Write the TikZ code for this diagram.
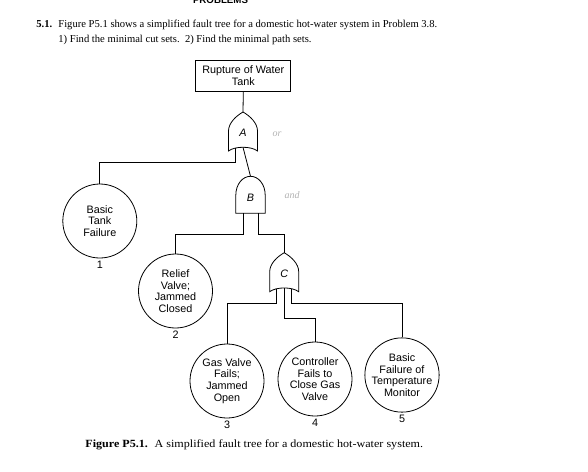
\documentclass[tikz,border=0pt]{standalone}
\usepackage{fontspec}
\usepackage{graphicx}
\setmainfont{Liberation Serif}
\setsansfont{Liberation Sans}
\usetikzlibrary{calc}
\begin{document}
\begin{tikzpicture}[x=1pt,y=-1pt, line width=0.8pt,
  every node/.style={font=\sffamily\fontsize{10.8}{11.7}\selectfont},
  event/.style={draw, circle, minimum size=74pt, inner sep=0pt, align=center},
  topbox/.style={draw, rectangle, minimum width=95pt, minimum height=31pt, inner sep=1pt, align=center},
  gatelabel/.style={font=\sffamily\itshape\fontsize{10.8}{12}\selectfont, inner sep=0pt},
  numlabel/.style={label={[label distance=2pt, inner sep=0pt]below:#1}},
  body/.style={font=\fontsize{10.6}{14}\selectfont, inner sep=0pt, anchor=base west},
  note/.style={font=\itshape\fontsize{10}{10}\selectfont, text=black!30, inner sep=0pt},
  orgate/.pic={
    \draw (-14.5,0) -- (-14.5,-20) .. controls (-14.5,-28) and (-7,-35) .. (0,-39)
       .. controls (7,-35) and (14.5,-28) .. (14.5,-20) -- (14.5,0)
       .. controls (8,-5) and (-8,-5) .. cycle;
    \node[gatelabel] (-label) at (0,-18) {#1};
    \coordinate (-out) at (0,-39);
    \coordinate (-in1) at (-7.5,-3);
    \coordinate (-in2) at (0,-3.75);
    \coordinate (-in3) at (7.5,-3);
  },
  andgate/.pic={
    \draw (-14.7,0) -- (-14.7,-18) .. controls (-14.7,-29) and (-8,-37) .. (0,-37)
      .. controls (8,-37) and (14.7,-29) .. (14.7,-18) -- (14.7,0) -- cycle;
    \node[gatelabel] (-label) at (0,-16) {#1};
    \coordinate (-out) at (0,-37);
    \coordinate (-in1) at (-7.5,0);
    \coordinate (-in2) at (7.5,0);
  }
]
\useasboundingbox (0,0) rectangle (588,471);

% heading (cut off at top) and problem statement
\node[font=\sffamily\bfseries\fontsize{9.7}{10}\selectfont, anchor=base, inner sep=0pt] (head) at (220.5,4) {PROBLEMS};
\node[body, font=\bfseries\fontsize{10.6}{14}\selectfont] (qnum) at (36,27.7) {5.1.};
\node[body] (q1) at (58,27.7) {Figure P5.1 shows a simplified fault tree for a domestic hot-water system in Problem 3.8.};
\node[body] (q2) at (58,42.3) {1) Find the minimal cut sets.\ \ 2) Find the minimal path sets.};

% top event
\node[topbox] (T) at (243.3,75.5) {Rupture of Water\\Tank};

% gates
\pic (A) at (243,151) {orgate=A};
\pic (B) at (250.5,213.3) {andgate=B};
\pic (C) at (284.2,291.7) {orgate=C};

% basic events
\node[event, numlabel=1] (c1) at (99.8,221) {Basic\\Tank\\Failure};
\node[event, numlabel=2] (c2) at (175.5,291) {Relief\\Valve;\\Jammed\\Closed};
\node[event, numlabel=3] (c3) at (227,381) {Gas Valve\\Fails;\\Jammed\\Open};
\node[event, numlabel=4] (c4) at (315,379) {Controller\\Fails to\\Close Gas\\Valve};
\node[event, numlabel=5] (c5) at (402,375) {Basic\\Failure of\\Temperature\\Monitor};

% connectors
\draw (T.south) -- (A-out);
\draw (A-in1) -- ++(0,14.7) -| (c1.north);
\draw (A-in2) -- (B-out);
\draw (B-in1) -- ++(0,21) -| (c2.north);
\draw (B-in2) -- ++(0,21) -| (C-out);
\draw (C-in1) -- ++(0,14.6) -| (c3.north);
\draw (C-in2) -- ++(0,30.3) -| (c4.north);
\draw (C-in3) -- ++(0,14.6) -| (c5.north);

% pencil annotations
\node[note] (orn) at (277,134) {or};
\node[note] (andn) at (292,195) {and};

% caption
\node[anchor=base west, inner sep=0pt, font=\fontsize{11}{13}\selectfont] (cap) at (85,447.3)
  {\scalebox{1.1}[1]{\textbf{Figure P5.1.}\hspace{0.55em}A simplified fault tree for a domestic hot-water system.}};
\end{tikzpicture}
\end{document}
